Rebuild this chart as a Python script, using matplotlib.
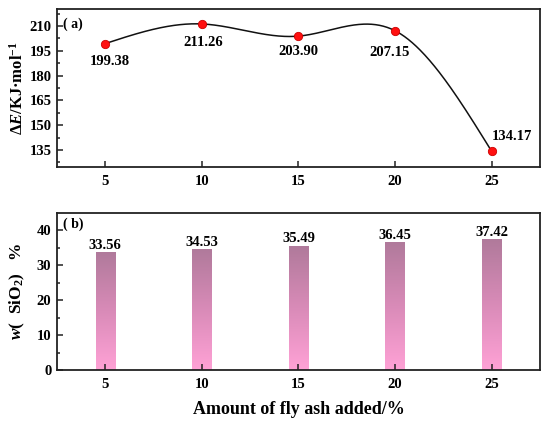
import numpy as np
import matplotlib
matplotlib.use("Agg")
import matplotlib.pyplot as plt
from matplotlib.colors import LinearSegmentedColormap

# ---- data ----
fly_ash = [5, 10, 15, 20, 25]
delta_e = [199.38, 211.26, 203.90, 207.15, 134.17]
sio2 = [33.56, 34.53, 35.49, 36.45, 37.42]
e_labels = ["199.38", "211.26", "203.90", "207.15", "134.17"]
s_labels = ["33.56", "34.53", "35.49", "36.45", "37.42"]
e_ticks = [135, 150, 165, 180, 195, 210]
s_ticks = [0, 10, 20, 30, 40]

plt.rcParams['font.family'] = ['Liberation Serif', 'DejaVu Serif']
plt.rcParams['font.weight'] = 'bold'
plt.rcParams['mathtext.fontset'] = 'custom'
plt.rcParams['mathtext.rm'] = 'Liberation Serif:bold'
plt.rcParams['mathtext.it'] = 'Liberation Serif:bold:italic'
plt.rcParams['mathtext.bf'] = 'Liberation Serif:bold'


def natural_spline(x, y, xs):
    x = np.asarray(x, float); y = np.asarray(y, float)
    n = len(x)
    h = np.diff(x)
    A = np.zeros((n, n)); b = np.zeros(n)
    A[0, 0] = 1; A[-1, -1] = 1
    for i in range(1, n - 1):
        A[i, i - 1] = h[i - 1]
        A[i, i] = 2 * (h[i - 1] + h[i])
        A[i, i + 1] = h[i]
        b[i] = 3 * ((y[i + 1] - y[i]) / h[i] - (y[i] - y[i - 1]) / h[i - 1])
    c = np.linalg.solve(A, b)
    out = np.empty_like(xs)
    for k, xv in enumerate(xs):
        i = min(max(np.searchsorted(x, xv) - 1, 0), n - 2)
        dx = xv - x[i]
        bi = (y[i + 1] - y[i]) / h[i] - h[i] * (2 * c[i] + c[i + 1]) / 3
        di = (c[i + 1] - c[i]) / (3 * h[i])
        out[k] = y[i] + bi * dx + c[i] * dx ** 2 + di * dx ** 3
    return out


fig = plt.figure(figsize=(5.5, 4.23), dpi=100)
ax1 = fig.add_axes([0.1036, 0.6052, 0.8782, 0.3735])
ax2 = fig.add_axes([0.1036, 0.1253, 0.8782, 0.3712])

for ax in (ax1, ax2):
    for s in ax.spines.values():
        s.set_linewidth(1.3)
        s.set_color('#222222')
    ax.tick_params(direction='in', which='both', top=False, right=False,
                   labelsize=10.5, width=1.1, colors='#222222', labelcolor='black')
    ax.tick_params(which='major', length=4, pad=4)
    ax.tick_params(which='minor', length=2.5)
    ax.tick_params(axis='x', pad=6)
    ax.set_xlim(2.5, 27.5)
    ax.set_xticks(fly_ash)

# ---- top panel ----
xs = np.linspace(fly_ash[0], fly_ash[-1], 400)
ax1.plot(xs, natural_spline(fly_ash, delta_e, xs), color='#111111', lw=1.1, zorder=2)
ax1.plot(fly_ash, delta_e, 'o', color='#ff1010', mec='#cc0000', mew=0.6, ms=6, zorder=3)
ax1.set_ylim(124.7, 220.3)
ax1.set_yticks(e_ticks)
ax1.set_yticks([t + 7.5 for t in e_ticks[:-1]] + [127.5, 217.5], minor=True)
offsets = [(5, -18), (1, -19), (0, -15), (-6, -22), (20, 15)]
for x, y, t, off in zip(fly_ash, delta_e, e_labels, offsets):
    ax1.annotate(t, (x, y), xytext=off, textcoords='offset pixels',
                 ha='center', va='center', fontsize=10.5, fontweight='bold')
ax1.text(0.012, 0.905, '( a)', transform=ax1.transAxes, fontsize=10,
         fontweight='bold', va='center', ha='left')
ax1.set_ylabel(r'$\Delta\mathit{E}$/KJ·mol$^{-1}$', fontsize=12, fontweight='bold')
ax1.yaxis.set_label_coords(-0.062, 0.5)

# ---- bottom panel ----
cmap = LinearSegmentedColormap.from_list('g', ['#ffa2d6', '#d98bb8', '#b07a9b'])
grad = np.linspace(0, 1, 256).reshape(-1, 1)
width = 1.0
for x, h in zip(fly_ash, sio2):
    ax2.imshow(grad, cmap=cmap, origin='lower', aspect='auto',
               extent=[x - width / 2, x + width / 2, 0, h], zorder=1)
ax2.bar(fly_ash, sio2, width=width, color='none', edgecolor='none', zorder=2)
for x, h, t in zip(fly_ash, sio2, s_labels):
    ax2.annotate(t, (x, h), xytext=(0, 0.5), textcoords='offset points',
                 ha='center', va='bottom', fontsize=10.5, fontweight='bold')
ax2.set_xlim(2.5, 27.5)
ax2.set_ylim(0, 45)
ax2.set_yticks(s_ticks)
ax2.set_yticks([5, 15, 25, 35], minor=True)
ax2.text(0.012, 0.93, '( b)', transform=ax2.transAxes, fontsize=10,
         fontweight='bold', va='center', ha='left')
ax2.set_ylabel(r'$\mathit{w}$(  SiO$_2$)   %', fontsize=12.5, fontweight='bold')
ax2.yaxis.set_label_coords(-0.062, 0.5)
ax2.set_xlabel('Amount of fly ash added/%', fontsize=13, fontweight='bold')
ax2.xaxis.set_label_coords(0.5, -0.2)

fig.savefig('out.png', dpi=100)
